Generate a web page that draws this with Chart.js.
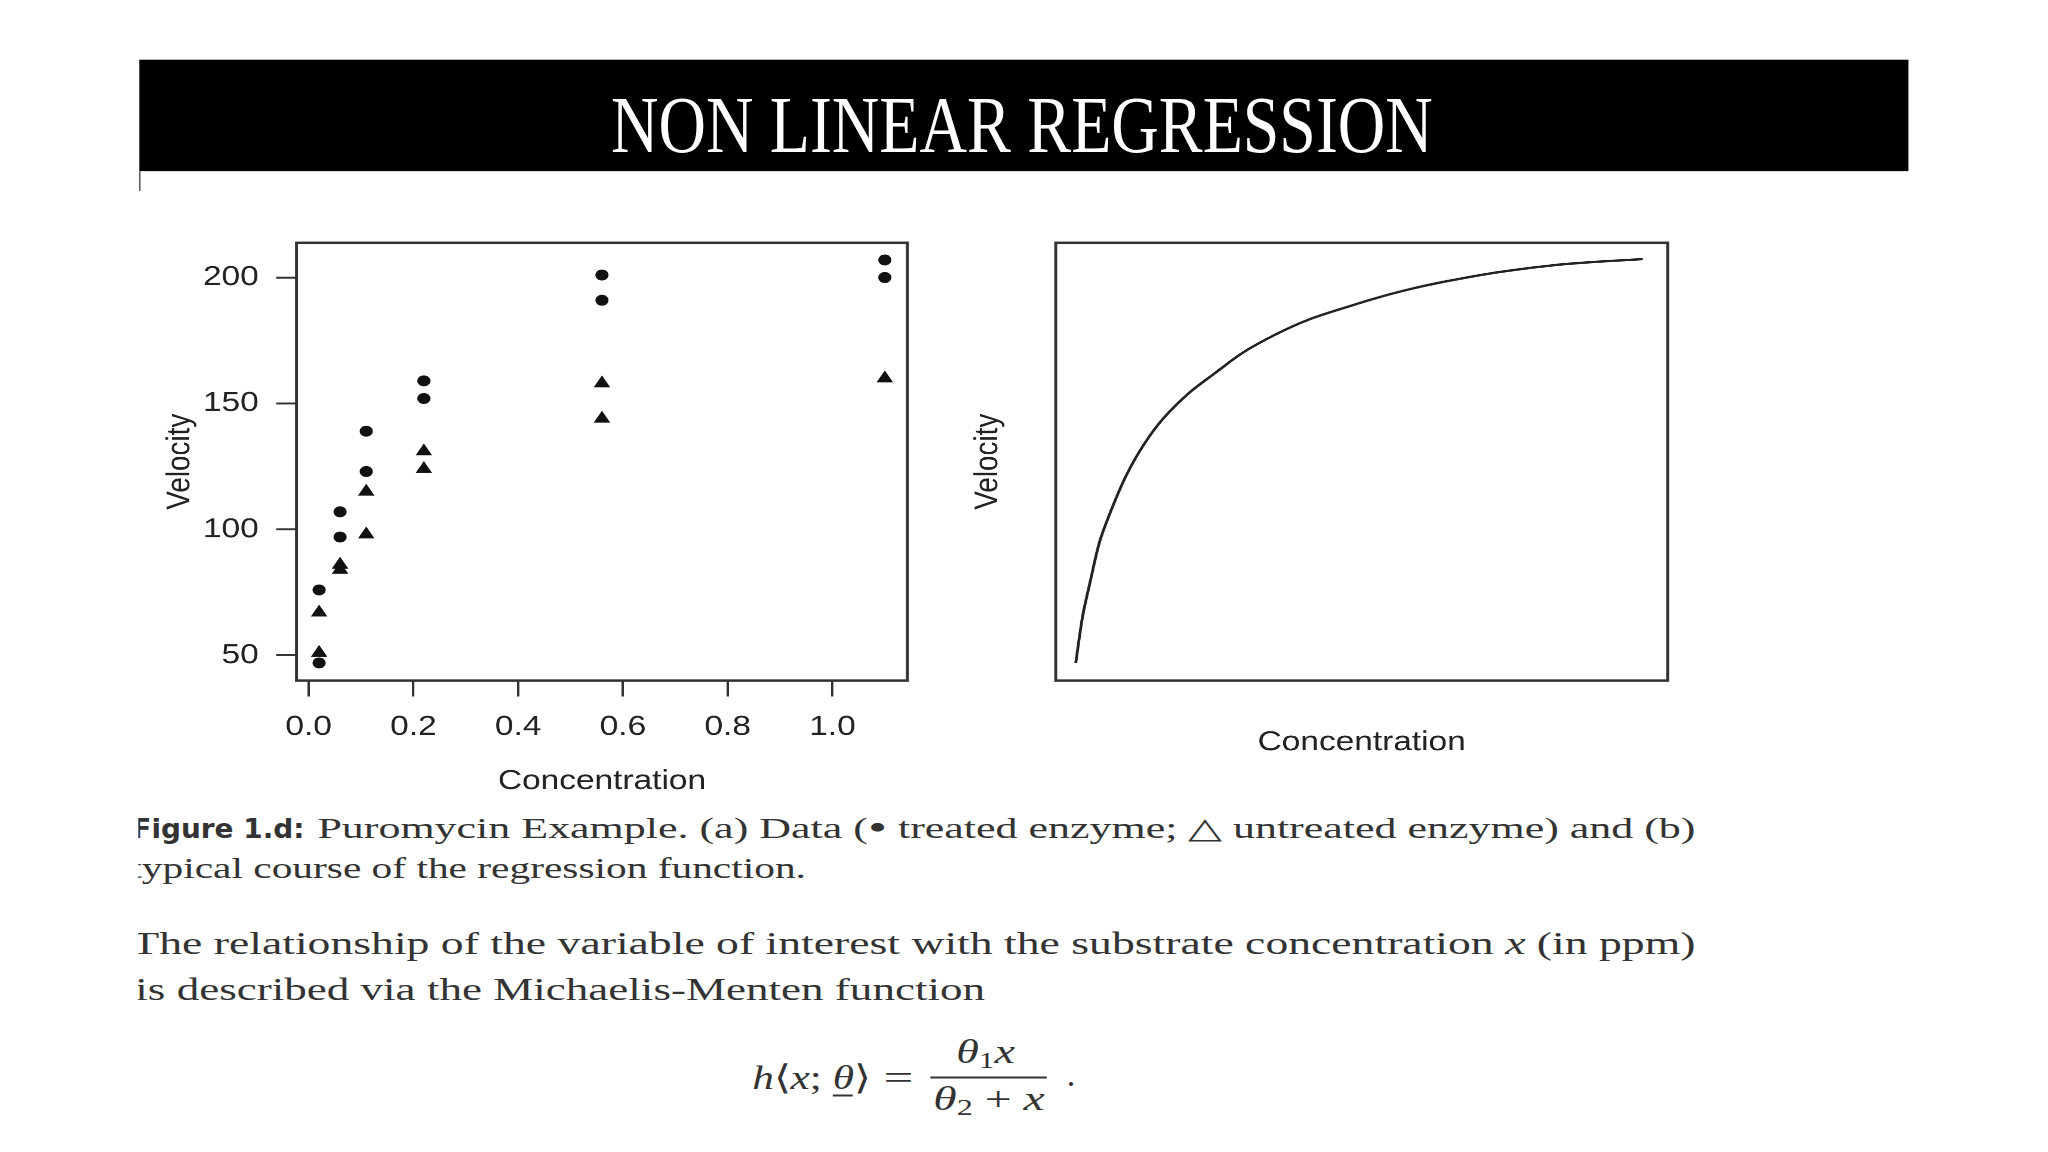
<!DOCTYPE html>
<html>
<head>
<meta charset="utf-8">
<script src="https://cdn.jsdelivr.net/npm/chart.js@4.4.1/dist/chart.umd.min.js"></script>
<style>
  html, body { margin: 0; padding: 0; background: #fff; overflow: hidden; }
  #page { position: relative; width: 2048px; height: 1152px; overflow: hidden; background: #fff; transform: scale(0.995); transform-origin: 0 0; }
  .wrap { position: absolute; top: 230px; height: 580px; transform: scaleX(1.2); transform-origin: 0 0; }
  svg { position: absolute; left: 0; top: 0; }
</style>
</head>
<body>
<div id="page">
<svg width="2048" height="1152" xmlns="http://www.w3.org/2000/svg">
  <defs>
    <clipPath id="clipL"><rect x="139" y="780" width="1800" height="360"/></clipPath>
  </defs>
  <rect x="140" y="60" width="1778" height="112" fill="#000"/>
  <line x1="140.5" y1="172" x2="140.5" y2="192" stroke="#555" stroke-width="1.5"/>
  <text x="614" y="153" font-family="Liberation Serif" font-size="80" fill="#fff" textLength="826" lengthAdjust="spacingAndGlyphs">NON LINEAR REGRESSION</text>

  <g clip-path="url(#clipL)" fill="#333">
    <text x="133" y="842" font-family="DejaVu Sans" font-weight="bold" font-size="26" textLength="173" lengthAdjust="spacingAndGlyphs">Figure 1.d:</text>
    <text x="319" y="842" font-family="Liberation Serif" font-size="29" textLength="1385" lengthAdjust="spacingAndGlyphs">Puromycin Example. (a) Data (<tspan font-size="36" dy="2">•</tspan><tspan dy="-2"> treated enzyme; △ untreated enzyme) and (b)</tspan></text>
    <text x="131" y="882" font-family="Liberation Serif" font-size="29" textLength="679" lengthAdjust="spacingAndGlyphs">typical course of the regression function.</text>
    <text x="132" y="959" font-family="Liberation Serif" font-size="32" textLength="1572" lengthAdjust="spacingAndGlyphs">The relationship of the variable of interest with the substrate concentration <tspan font-style="italic">x</tspan> (in ppm)</text>
    <text x="136" y="1005" font-family="Liberation Serif" font-size="32" textLength="854" lengthAdjust="spacingAndGlyphs">is described via the Michaelis-Menten function</text>
  </g>

  <g fill="#333" font-family="Liberation Serif" font-size="34">
    <text x="756" y="1094" textLength="119" lengthAdjust="spacingAndGlyphs"><tspan font-style="italic">h</tspan>⟨<tspan font-style="italic">x</tspan>; <tspan font-style="italic">θ</tspan>⟩</text>
    <line x1="837" y1="1101" x2="857" y2="1101" stroke="#333" stroke-width="2"/>
    <text x="888" y="1094" textLength="30" lengthAdjust="spacingAndGlyphs">=</text>
    <line x1="935" y1="1083" x2="1052" y2="1083" stroke="#333" stroke-width="2"/>
    <text x="961" y="1068" textLength="59" lengthAdjust="spacingAndGlyphs"><tspan font-style="italic">θ</tspan><tspan font-size="23" dy="5">1</tspan><tspan font-style="italic" dy="-5">x</tspan></text>
    <text x="938" y="1116" textLength="112" lengthAdjust="spacingAndGlyphs"><tspan font-style="italic">θ</tspan><tspan font-size="23" dy="5">2</tspan><tspan dy="-5"> + </tspan><tspan font-style="italic">x</tspan></text>
    <text x="1072" y="1091">.</text>
  </g>
</svg>
<div class="wrap" style="left:150px; width:650px;"><canvas id="c1" width="650" height="580"></canvas></div>
<div class="wrap" style="left:950px; width:620px;"><canvas id="c2" width="620" height="580"></canvas></div>
</div>
<script>
// ---- data (Puromycin example) ----
const concTreated   = [0.02, 0.02, 0.06, 0.06, 0.11, 0.11, 0.22, 0.22, 0.56, 0.56, 1.10, 1.10];
const rateTreated   = [76, 47, 97, 107, 123, 139, 159, 152, 191, 201, 207, 200];
const concUntreated = [0.02, 0.02, 0.06, 0.06, 0.11, 0.11, 0.22, 0.22, 0.56, 0.56, 1.10];
const rateUntreated = [67, 51, 84, 86, 98, 115, 131, 124, 144, 158, 160];
const xTickValues = [0, 0.2, 0.4, 0.6, 0.8, 1.0];
const xTickLabels = ['0.0', '0.2', '0.4', '0.6', '0.8', '1.0'];
const yTickValues = [50, 100, 150, 200];
const yTickLabels = ['50', '100', '150', '200'];
// panel (b): typical course of the regression function
const curveConc = [0.015, 0.028, 0.043, 0.061, 0.087, 0.112, 0.144, 0.181, 0.232, 0.282, 0.333, 0.395, 0.458, 0.533, 0.609, 0.671, 0.734, 0.820, 0.947, 1.096];
const curveRate = [50.5, 67.7, 81.0, 95.7, 109.2, 120.2, 131.1, 140.8, 150.6, 158.0, 165.3, 172.0, 177.5, 182.3, 186.7, 189.7, 192.2, 195.1, 198.1, 200.0];

const INK = '#222';
const tickFont = { family: 'Liberation Sans, Arial, sans-serif', size: 28 };

const boxPlugin = {
  id: 'rbox',
  afterDatasetsDraw(chart) {
    const { ctx, chartArea: a } = chart;
    ctx.save();
    ctx.strokeStyle = '#333';
    ctx.lineWidth = 2.5;
    ctx.strokeRect(a.left, a.top, a.right - a.left, a.bottom - a.top);
    ctx.restore();
  }
};

new Chart(document.getElementById('c1'), {
  type: 'scatter',
  data: {
    datasets: [
      {
        label: 'treated',
        data: concTreated.map((x, i) => ({ x: x, y: rateTreated[i] })),
        pointStyle: 'circle', pointRadius: 5.5, backgroundColor: '#111', borderWidth: 0
      },
      {
        label: 'untreated',
        data: concUntreated.map((x, i) => ({ x: x, y: rateUntreated[i] })),
        pointStyle: 'triangle', pointRadius: 8, backgroundColor: '#111', borderColor: '#111', borderWidth: 0
      }
    ]
  },
  options: {
    responsive: false, animation: false, devicePixelRatio: 2,
    layout: { padding: { top: 14, right: 15, left: 0, bottom: 0 } },
    plugins: { legend: { display: false }, tooltip: { enabled: false } },
    scales: {
      x: {
        type: 'linear', min: -0.0232, max: 1.1432,
        afterBuildTicks: s => { s.ticks = xTickValues.map(v => ({ value: v })); },
        afterFit: s => { s.height = 126; s.paddingLeft = 0; s.paddingRight = 0; },
        ticks: { callback: (v, i) => xTickLabels[i], font: tickFont, color: INK, padding: 14, maxRotation: 0, autoSkip: false },
        grid: { drawOnChartArea: false, drawTicks: true, tickLength: 16, color: '#333', lineWidth: 2 },
        border: { display: false },
        title: { display: true, text: 'Concentration', font: tickFont, color: INK, padding: { top: 0, bottom: 8 } }
      },
      y: {
        type: 'linear', min: 40.0, max: 213.8,
        afterBuildTicks: s => { s.ticks = yTickValues.map(v => ({ value: v })); },
        afterFit: s => { s.width = 123.3; s.paddingTop = 0; s.paddingBottom = 0; },
        ticks: { callback: (v, i) => yTickLabels[i], font: tickFont, color: INK, padding: 14.6, autoSkip: false },
        grid: { drawOnChartArea: false, drawTicks: true, tickLength: 17, color: '#333', lineWidth: 2 },
        border: { display: false },
        title: { display: true, text: 'Velocity', font: tickFont, color: INK, padding: { top: 9, bottom: 0 } }
      }
    }
  },
  plugins: [boxPlugin]
});

new Chart(document.getElementById('c2'), {
  type: 'scatter',
  data: {
    datasets: [{
      label: 'h(x)',
      data: curveConc.map((x, i) => ({ x: x, y: curveRate[i] })),
      showLine: true, pointRadius: 0, borderColor: '#222', borderWidth: 2.4,
      tension: 0.3, fill: false
    }]
  },
  options: {
    responsive: false, animation: false, devicePixelRatio: 2,
    layout: { padding: { top: 14, right: 15, left: 0, bottom: 0 } },
    plugins: { legend: { display: false }, tooltip: { enabled: false } },
    scales: {
      x: {
        type: 'linear', min: -0.0232, max: 1.1432,
        afterFit: s => { s.height = 126; s.paddingLeft = 0; s.paddingRight = 0; },
        ticks: { display: false },
        grid: { display: false },
        border: { display: false },
        title: { display: true, text: 'Concentration', font: tickFont, color: INK, padding: { top: 0, bottom: 47 } }
      },
      y: {
        type: 'linear', min: 44, max: 206,
        afterFit: s => { s.width = 92.5; s.paddingTop = 0; s.paddingBottom = 0; },
        ticks: { display: false },
        grid: { display: false },
        border: { display: false },
        title: { display: true, text: 'Velocity', font: tickFont, color: INK, padding: { top: 19, bottom: 0 } }
      }
    }
  },
  plugins: [boxPlugin]
});
</script>
</body>
</html>
